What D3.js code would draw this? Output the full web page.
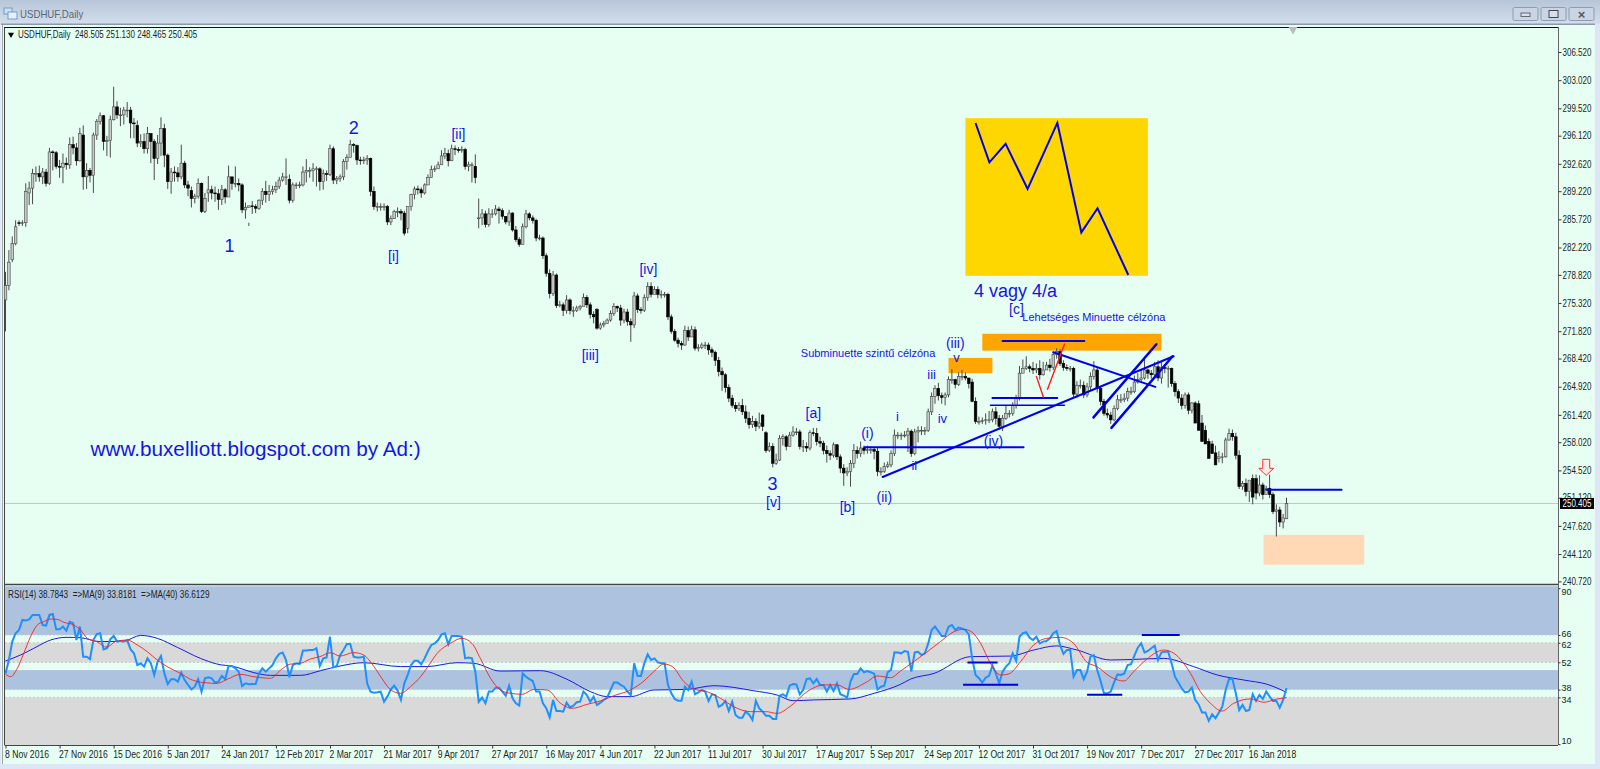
<!DOCTYPE html>
<html>
<head>
<meta charset="utf-8">
<title>USDHUF,Daily</title>
<script src="https://cdn.jsdelivr.net/npm/d3@7"></script>
<style>
  html, body { margin: 0; padding: 0; background: #dce6f4; overflow: hidden; }
  svg { display: block; }
  text { font-family: "Liberation Sans", Arial, sans-serif; }
  .small { font-family: "Liberation Sans", Arial, sans-serif; font-size: 10px; fill: #222; }
</style>
</head>
<body>
<svg width="1600" height="769"></svg>
<script>
const dateLabels = ['8 Nov 2016','27 Nov 2016','15 Dec 2016','5 Jan 2017','24 Jan 2017','12 Feb 2017','2 Mar 2017','21 Mar 2017','9 Apr 2017','27 Apr 2017','16 May 2017','4 Jun 2017','22 Jun 2017','11 Jul 2017','30 Jul 2017','17 Aug 2017','5 Sep 2017','24 Sep 2017','12 Oct 2017','31 Oct 2017','19 Nov 2017','7 Dec 2017','27 Dec 2017','16 Jan 2018'];
const dateTickBars = [0,16,32,48,64,80,96,112,128,144,160,176,192,208,224,240,256,272,288,304,320,336,352,368];
const priceTicks = [306.52,303.02,299.52,296.12,292.62,289.22,285.72,282.22,278.82,275.32,271.82,268.42,264.92,261.42,258.02,254.52,251.12,247.62,244.12,240.72];
const rsiTicks = [90,66,62,52,38,34,10];

const closes = [
277.5,280.4,282.7,284.8,285.2,285.3,289.2,289.6,291.4,291.4,
291.0,291.6,290.2,294.1,294.0,292.3,292.2,292.7,292.5,295.0,
294.6,293.0,296.4,291.0,291.8,291.2,296.2,297.9,298.6,295.4,
295.5,298.1,299.7,298.7,298.7,299.3,299.3,297.7,297.6,295.2,
295.4,294.5,296.4,295.4,293.3,295.2,297.0,293.7,290.4,291.6,
291.5,291.0,292.7,290.0,289.6,288.3,288.6,290.2,286.7,288.3,
289.4,289.0,288.9,288.2,289.4,288.5,291.0,290.2,290.2,290.0,
286.9,287.2,287.4,287.3,287.1,288.1,289.2,288.8,289.2,289.4,
289.8,290.6,291.0,291.0,288.1,290.0,290.0,290.0,291.6,291.8,
291.8,292.0,292.0,290.4,291.4,291.3,294.5,290.6,290.8,291.0,
292.9,293.4,295.0,294.9,293.1,293.0,293.1,293.3,289.2,287.3,
287.3,287.3,287.3,285.4,285.8,286.7,286.7,286.5,284.0,287.3,
288.8,289.5,289.4,289.0,290.0,290.9,291.9,292.0,292.5,293.6,
293.9,293.0,294.5,294.4,294.3,294.4,292.3,292.5,292.5,290.9,
285.9,286.4,285.1,286.4,286.4,287.0,286.8,286.1,285.4,286.5,
284.4,283.2,282.6,284.8,286.4,285.9,285.6,283.4,283.4,281.2,
279.0,276.5,278.8,275.0,275.1,274.4,275.7,274.4,274.4,274.7,
274.9,276.0,275.1,273.9,273.6,272.2,272.6,272.8,273.2,274.0,
274.9,274.7,273.2,274.2,273.0,272.6,276.2,274.5,274.4,276.0,
277.4,276.4,277.0,276.4,276.4,276.4,273.6,271.8,270.7,270.3,
270.1,271.9,271.1,272.0,269.7,269.8,270.1,270.1,269.5,269.2,
268.2,266.8,266.4,264.8,263.5,262.6,262.2,262.6,261.8,261.0,
260.2,260.6,260.0,260.4,260.0,257.0,257.5,255.4,255.8,258.5,
258.7,257.5,258.9,259.3,259.3,257.5,257.5,257.3,259.2,259.1,
258.1,257.9,257.0,256.6,256.4,257.7,256.2,254.8,254.2,254.4,
255.4,257.0,256.6,257.3,257.0,257.1,257.1,256.9,254.4,254.4,
255.0,255.2,256.6,258.9,258.9,258.9,258.9,259.4,256.6,259.3,
259.5,259.5,259.5,261.8,263.7,264.7,263.8,263.6,263.9,265.8,
265.8,265.2,266.2,266.2,266.0,265.3,263.1,260.6,260.6,260.7,
260.8,260.8,261.8,261.0,260.0,261.0,261.6,261.6,262.6,263.5,
266.6,267.2,267.4,267.2,267.0,267.2,266.4,267.0,267.6,267.3,
268.9,269.3,267.8,267.3,267.2,267.2,264.0,265.1,265.1,263.9,
264.9,266.2,267.0,264.7,263.1,261.6,261.4,260.8,262.2,263.3,
263.3,263.5,264.3,264.3,265.5,265.8,266.0,267.0,266.6,266.4,
267.4,266.0,267.3,267.2,267.2,265.3,264.3,263.5,262.6,263.9,
262.0,262.9,260.4,259.5,258.1,257.8,256.0,256.6,255.2,256.2,
256.2,258.3,259.1,258.7,256.4,252.5,252.9,251.9,253.3,251.2,
251.7,252.7,251.5,252.3,251.5,249.4,249.6,248.1,248.6,250.405];

const opens = [
275.7,277.5,280.7,282.7,285.3,285.2,285.3,289.0,289.6,291.3,
291.4,291.0,291.6,290.2,294.1,294.0,292.3,292.2,292.7,292.5,
295.0,294.6,293.0,296.2,291.0,291.8,291.2,296.2,297.9,298.6,
295.4,295.5,298.1,299.7,298.7,298.7,299.3,299.3,297.7,297.4,
295.2,295.4,294.5,296.4,295.4,293.3,295.2,297.0,293.7,290.4,
291.6,291.5,291.0,292.7,290.0,289.3,288.3,288.6,290.2,286.7,
289.0,289.4,289.0,288.9,288.2,289.4,288.5,291.0,290.2,290.2,
290.0,286.9,287.2,287.4,287.3,287.1,288.1,289.2,288.8,289.2,
289.4,289.8,290.6,291.0,290.7,288.1,290.0,290.0,290.0,291.6,
291.8,291.8,292.0,292.0,290.4,291.4,291.3,294.5,290.6,290.8,
291.0,292.9,293.4,295.0,294.9,293.1,293.0,293.1,293.3,289.2,
287.3,287.3,287.3,287.3,285.4,285.8,286.7,286.7,286.5,284.6,
287.3,288.8,289.5,289.4,289.0,290.0,290.9,291.9,292.0,292.5,
293.6,293.9,293.0,294.5,294.4,294.3,294.4,292.3,292.5,292.3,
285.8,285.9,286.4,285.1,286.4,286.4,287.0,286.8,286.1,285.4,
286.5,284.4,283.2,282.6,284.8,286.4,285.9,285.6,283.4,283.4,
281.2,279.0,276.5,278.8,275.0,275.1,274.4,275.7,274.4,274.4,
274.7,274.9,276.0,275.1,273.9,274.5,272.2,272.6,272.8,273.2,
274.0,274.9,274.7,273.2,274.2,273.0,272.6,276.2,274.5,274.4,
276.0,277.4,276.4,277.0,276.4,276.4,276.4,273.6,271.8,270.7,
270.3,270.1,271.9,271.1,272.0,269.7,269.8,270.1,270.1,269.5,
269.2,268.2,266.8,266.4,264.8,263.5,262.6,262.2,262.6,261.8,
261.0,260.2,260.6,260.0,261.4,259.2,257.0,257.5,255.4,255.8,
258.5,258.7,257.5,258.9,259.3,259.3,257.5,257.5,257.3,259.2,
259.1,258.1,257.9,257.0,256.6,256.4,257.7,256.2,254.8,254.2,
254.4,255.4,257.0,256.6,257.3,257.0,257.1,257.1,256.9,254.4,
254.4,255.0,255.2,256.6,258.9,258.9,258.9,258.9,259.4,256.6,
259.3,259.5,259.5,259.5,261.8,263.7,264.7,263.8,263.6,263.9,
265.8,265.8,265.2,266.2,266.2,266.0,265.5,263.1,260.6,260.6,
260.7,260.8,260.8,261.8,261.0,259.8,261.0,261.6,261.6,262.6,
263.5,266.6,267.2,267.4,267.2,267.0,267.2,266.4,267.0,267.6,
267.3,268.9,269.3,267.8,267.3,267.2,267.2,264.0,265.1,265.1,
263.9,264.9,266.2,267.0,264.7,263.1,261.6,261.4,260.8,262.2,
263.3,263.3,263.5,264.3,264.3,265.5,265.8,266.0,267.0,266.6,
266.4,267.4,266.0,267.3,267.2,267.2,265.3,264.3,263.5,262.6,
263.9,262.0,262.9,262.8,260.4,259.5,258.1,257.8,256.7,256.0,
256.2,256.2,258.3,259.1,258.7,256.4,252.5,252.9,251.9,253.5,
253.5,251.7,252.7,251.5,252.3,251.5,249.4,249.6,248.1,248.505];

const highs = [
279.2,281.9,283.6,285.6,285.6,285.6,290.2,290.4,292.0,292.3,
292.4,292.1,292.0,294.6,294.3,294.2,293.1,293.9,293.4,295.9,
296.0,295.2,297.1,297.4,292.7,292.1,296.5,298.2,299.0,298.7,
296.1,298.6,302.2,300.4,299.6,299.7,300.3,299.7,298.3,298.0,
296.3,296.4,297.2,296.4,295.7,296.2,298.4,297.6,293.9,292.1,
292.3,292.2,295.0,293.0,290.5,289.8,288.9,290.8,290.3,289.0,
291.1,289.9,289.8,289.5,290.0,289.6,292.4,291.0,292.3,290.8,
290.2,287.8,285.3,288.0,287.6,288.2,289.6,290.5,290.0,289.9,
290.4,291.0,291.5,293.3,291.3,290.3,290.3,290.4,292.3,293.2,
292.2,292.7,292.3,292.2,291.9,291.8,295.0,294.8,291.1,291.3,
293.2,293.8,295.6,295.2,295.0,293.5,293.5,293.7,293.4,289.8,
287.8,287.7,287.7,287.5,286.2,286.9,287.2,287.0,286.8,287.0,
288.9,289.8,289.9,289.7,290.2,291.3,292.4,292.4,292.9,294.3,
294.6,294.4,295.0,294.9,294.7,294.8,294.6,292.9,292.8,293.8,
288.3,287.0,286.8,287.1,287.0,287.5,287.3,287.1,285.9,286.9,
286.6,284.9,283.5,285.2,286.9,286.6,286.2,285.8,283.8,283.6,
281.5,279.5,279.3,279.0,275.6,275.4,276.3,275.9,274.9,275.0,
275.1,276.5,276.3,275.4,274.3,274.7,272.9,273.1,273.4,274.4,
275.3,275.0,275.1,274.6,274.6,273.4,276.7,276.5,274.8,276.4,
277.9,277.9,277.4,277.4,276.9,276.7,276.6,273.9,272.1,271.0,
270.6,272.5,272.4,272.5,272.4,270.2,270.4,270.5,270.4,269.8,
269.4,268.6,267.3,266.6,265.2,263.9,263.0,263.0,263.4,262.6,
261.8,261.3,261.0,261.7,261.5,259.4,258.0,257.9,256.6,258.9,
259.0,258.9,259.3,260.0,259.8,259.6,258.3,258.0,259.5,259.8,
259.8,258.7,258.2,257.6,257.0,258.0,257.8,256.5,255.3,254.9,
255.8,257.8,257.5,258.1,257.6,257.6,257.5,257.3,257.3,254.9,
255.5,255.6,257.0,259.6,259.3,259.2,259.4,259.8,259.6,259.7,
260.0,260.0,259.9,262.2,264.2,265.1,265.4,264.2,264.2,266.2,
267.1,265.9,266.7,267.0,266.7,265.8,265.9,263.6,261.2,261.1,
261.6,261.9,262.2,262.4,261.4,261.4,262.6,262.0,263.0,263.9,
267.5,268.3,268.7,267.7,268.0,267.8,268.2,268.0,268.0,268.4,
269.3,269.7,269.6,268.2,267.7,267.5,267.4,265.6,265.8,265.6,
265.4,266.7,268.1,267.3,264.9,263.4,262.2,261.8,262.6,263.9,
264.0,264.1,264.8,264.9,266.3,266.6,267.0,268.4,267.2,267.0,
268.0,268.2,268.0,267.7,267.5,267.3,265.6,264.6,264.0,264.2,
264.2,263.0,263.1,263.2,261.4,260.1,258.5,258.2,257.6,256.9,
256.7,258.6,259.7,259.6,259.2,257.0,253.2,253.5,252.7,254.0,
254.0,253.9,253.0,252.6,254.0,251.8,250.3,250.0,249.1,251.13];

const lows = [
271.8,276.9,280.4,282.5,284.9,284.9,284.8,287.5,287.6,290.4,
290.4,290.1,289.8,290.0,291.8,292.0,290.9,290.2,291.9,292.0,
293.8,292.4,292.9,289.4,289.5,290.3,289.0,295.6,297.5,294.3,
293.6,293.4,298.0,298.2,297.3,297.5,298.4,295.8,295.8,294.7,
294.7,293.9,293.9,292.7,290.6,292.6,293.6,292.2,289.5,288.9,
290.4,290.4,290.7,289.6,288.6,287.2,287.7,288.3,286.5,286.5,
287.9,288.2,287.9,286.9,287.5,287.7,288.9,289.4,289.7,289.2,
286.5,285.8,284.9,286.4,286.5,286.9,287.5,287.8,288.0,288.8,
289.0,289.5,290.4,290.0,287.7,287.8,289.5,289.6,289.8,290.3,
290.9,290.4,289.8,289.3,289.4,290.5,291.1,290.1,290.1,290.4,
290.6,291.9,293.5,294.0,292.5,292.5,292.6,292.5,288.6,286.9,
286.7,286.8,286.8,285.0,285.0,285.8,286.0,285.6,283.7,284.0,
286.8,288.2,288.8,288.4,288.8,290.0,290.9,291.6,292.2,292.5,
293.2,292.3,293.0,293.7,294.0,294.0,291.9,291.7,290.3,290.2,
284.6,285.0,284.7,284.8,285.9,286.2,285.2,285.7,285.1,284.9,
284.2,282.9,282.3,282.8,284.6,285.6,285.2,283.0,283.1,280.8,
278.6,275.9,276.2,274.7,274.8,273.7,274.0,273.9,273.6,274.2,
274.4,275.4,274.7,273.4,272.8,272.0,272.0,272.3,272.8,273.0,
273.7,274.2,272.5,272.8,272.5,270.5,272.2,274.1,274.0,274.2,
275.6,276.0,276.5,275.9,275.9,276.0,273.2,271.5,270.5,269.8,
269.5,270.0,270.6,271.2,269.4,269.3,269.6,269.6,268.9,268.6,
267.5,266.2,264.4,264.2,263.0,262.3,261.8,261.9,261.4,260.4,
259.7,259.8,259.4,259.7,259.4,256.7,256.8,254.9,255.2,255.7,
257.6,257.0,257.5,258.7,258.9,257.1,256.8,256.8,257.0,258.8,
257.6,257.4,256.5,255.5,255.8,256.1,255.8,254.2,252.6,253.8,
252.5,254.8,256.0,256.2,256.5,256.6,256.6,255.9,253.8,253.9,
254.2,254.8,254.9,256.3,258.4,258.3,258.6,256.8,256.2,256.4,
258.0,258.9,258.9,259.3,261.4,262.8,263.2,262.8,262.6,263.6,
265.3,264.7,265.0,265.7,265.7,264.7,263.0,260.3,260.2,260.3,
260.2,260.4,260.5,260.2,259.6,259.4,260.8,261.1,261.3,262.2,
263.2,266.8,267.0,266.7,266.5,266.6,265.8,266.3,267.0,266.8,
267.0,268.4,267.5,266.9,266.9,266.8,263.5,263.5,264.7,263.5,
263.6,264.5,265.8,264.2,262.6,261.3,261.0,260.3,260.6,262.0,
262.9,263.0,263.1,263.9,264.1,265.3,265.5,265.8,265.9,265.9,
266.0,265.6,265.3,266.6,264.8,264.9,263.7,262.9,262.1,262.2,
261.5,261.6,260.5,260.0,259.1,258.0,257.6,257.1,255.6,255.5,
255.4,256.1,258.2,258.2,255.9,252.2,252.1,251.3,250.6,250.3,
250.9,251.3,250.9,251.5,251.1,249.1,246.3,247.5,247.3,248.465];

const rsiValues = [
46.3,53.2,62.6,66.9,68.6,73.7,73.4,74,76.3,76.3,
76.3,71.1,70.8,76.3,76.8,68.9,68.9,70.3,68.2,72.8,
72,63.4,70.3,54.9,54.9,53.7,63.4,66.5,66.9,58.6,
59.2,63.8,65.5,62.6,62.9,62.6,63.4,58.6,56.6,50.6,
51.5,49.8,54,51.5,45.5,52.3,55.2,46.3,40.9,43.3,
43.3,42.1,46.7,42.9,40.4,38.1,39.5,43.3,36.9,43.8,
44.3,43.8,41.6,42.1,45,43.3,50.1,50.1,48.9,47.2,
39.8,41.2,40.7,40.9,40.9,46.3,48.9,47.2,48.9,50.6,
54,56.3,57,53.2,44.3,50.6,51.5,51.1,58,58,
58.3,58.3,59.2,50.1,54,54.5,65.1,49.4,50.1,55.7,
58.3,61.4,61.4,54.9,54.5,54.5,54.9,41.2,36.9,36.4,
36.6,36.9,31.8,34.4,38.1,40,37.5,32.7,41.2,45.5,
50.6,52.8,52.8,51,54,57.8,60.9,61.7,63.4,66.3,
66.9,61.2,65.5,65.5,65.5,65.2,54,54.4,54,47.2,
31.8,33.9,31,37,37,39,39,37,34.9,40,
33.5,31,29.8,46.3,44.6,43.4,42.4,37,37,31,
28.4,23.8,32.7,27,27,26.7,31.3,28.9,29.8,31.5,
31.8,37,35.2,31.8,34.4,30.1,31.3,32.7,33.9,37.8,
41.7,41.7,40.4,39.5,37,35.2,51.5,45,45,51.5,
56.1,53.2,54,52,51.5,51.5,40.4,36.1,33.2,32.3,
32.3,39.5,37.8,42.1,35.6,36.6,37.8,37,32.2,35.6,
35.2,29.2,30.1,32.2,27,31.8,25,23.6,23.6,26.7,
25.3,22.4,32.2,28.4,26.7,24.6,24.6,22.9,22.9,34.9,
35.6,34.4,40,40.9,40.7,35.6,37.8,43.4,43.8,41.2,
43.4,40.4,40.4,37,40.4,37.3,41.2,35.6,34.9,33.9,
42.1,46,46,48.9,46.9,47.5,46.9,46.2,38.1,39.5,
40,46.9,48.1,57.1,57,56.6,57.8,57.4,47.2,57.1,
57.4,55.7,56.6,61.7,68.6,70.3,68,65.5,65.5,70.3,
71.1,68.6,69.8,69.4,68.6,66.3,54,45.5,43.8,41.6,
44.1,45.1,50.3,46.3,41.2,47.2,49.8,51.5,56.6,52.7,
65.1,66.9,67.4,64.6,63.4,65.1,61.7,62.6,62.9,64.3,
66.9,68,60.9,56.3,58.3,58.3,44.6,48,48,43.4,
47.2,54.9,55.7,48,42.4,36.1,36.1,37,41.7,45.8,
45.5,46.3,50.6,51,55.4,59.5,61.7,57.1,57.8,59.2,
60.5,53.2,57.1,57.4,57.4,51.5,44.6,41.7,38.6,36.6,
37,39,32.7,30.4,26.3,26.3,22,25.3,23.3,26.3,
29.2,37.8,43.4,43.4,36.1,27.5,30.1,27,27.5,35.6,
32.2,35.2,33.2,37,34.4,32.2,32.2,28.7,32.7,38.78];

const ma9Bars = [0,1.5,3.5,5.4,7.4,9.4,11.3,13.3,15.3,17.3,20.2,22.2,24.2,27,30,32.5,36,39,41.9,44.9,47.8,51.8,54.7,58.7,62.6,65.6,69.5,73.5,78.4,81.4,84.3,87.3,90.2,93,96.2,99,103,106,109,112,114,116.9,119.8,122.8,125.3,127.7,131.6,135,138,140.5,143.5,146.4,149.4,152.9,156.3,160.3,164.2,167.6,172,176,180,184.9,188.9,191.8,194.8,197.3,200.7,203.7,207.6,211.6,215.5,220.4,224.9,228.3,232.3,237.2,242.2,246.1,249.5,255,257.9,261.9,264.8,268.7,272.7,276.6,280.6,283.5,286,288.5,291.4,294.4,296.8,300.3,304.2,308.1,312.1,316,320,322.9,326.9,330.9,333.8,336.8,342.7,345.7,350.6,353.5,356.5,359.9,363.4,368.2,372.3,376.2,379];
const ma9Values = [46,44.6,48.9,56.6,65.1,71.1,72.8,74.2,74,72.5,71.1,68.6,64.3,62.6,59.7,62.6,63.4,60.9,57.5,53.2,49.8,46.3,43.3,41.6,41.2,43.3,45.8,44.6,43.8,48,51.1,51.5,53.7,54.9,56.9,55.2,57,55.7,49.8,42.1,37.8,36.1,39.5,44.6,50.6,56.6,61.7,64.3,61.7,54,43.8,37.8,36.1,35.6,38.1,37.8,31,28.4,30.4,32.2,34.9,37.8,42.4,47.2,51.1,49.8,42.1,38.3,36.9,33.5,29.2,26.7,26.7,25.8,29.6,37,40.4,40.4,38.1,42.1,45,44.1,47.5,52.3,57.4,62.6,67.7,68.9,67.4,61.7,51.5,45.5,46,52.3,60.9,64.3,64.8,61.7,52,49.8,44.6,42.4,47.2,52.3,58.3,56.6,46.3,37,31,27,31,33.2,31.5,33.2,33.82];
const ma40Bars = [0,4.4,8.4,13.3,18.2,22.2,28,35,40,44.9,50.8,57.7,62.6,67.6,73.5,78.4,87.3,93.2,99,106,116.9,124.7,133.6,138.5,146.4,158.3,166,173,178,185,191.8,201.6,209.6,221.4,228.3,233,239,249.9,257,264.8,267.8,274.7,285.5,297.3,304.2,311,317,326.9,333.8,342.7,351.5,358.5,366.4,373.3,379];
const ma40Values = [52.7,55.7,59.2,63.4,64.8,64.6,62.6,62.9,65.8,64.3,59.7,54,51.1,49.8,46.7,45.3,45.3,47.7,50.1,51.8,49.8,49.8,51.8,51.5,47.5,47.7,43.4,37,34.4,34.4,37.8,38.1,40,37.4,35.2,32.3,32.7,33.2,36.1,40.7,43.4,46.3,54.9,55.2,58.3,60.4,58.3,53.2,53.5,54,49.8,45.5,42.9,40.7,36.61];

// wave counts and notes: [text, bar, price, font size]
const waveLabels = [
  ['1',66.3,282.5,18],['2',103,297.1,18],['3',226.9,252.9,18],
  ['[i]',114.8,281.2,14],['[ii]',134,296.3,14],['[iii]',173,268.9,14],['[iv]',190.2,279.5,14],['[v]',227.2,250.6,14],
  ['[a]',239,261.6,14],['[b]',249.1,250,14],['[c]',299.1,274.6,14],
  ['(i)',255,259.2,14],['(ii)',260,251.2,14],['(iii)',281,270.3,14],['(iv)',292.3,258.2,14],
  ['i',263.9,261.2,13],['ii',268.9,255.1,13],['iii',274,266.4,13],['iv',277.2,261,13],['v',281.4,268.5,13],
  ['4 vagy 4/a',298.8,276.9,18],
  ['Lehetséges Minuette célzóna',322,273.6,11],['Subminuette szintű célzóna',255.2,269.1,11],
  ['www.buxelliott.blogspot.com by Ad:)',74,257.2,20.7]
];

// [bar1, price1, bar2, price2, width]
const blueLines = [
  [254.1,257.4,301.2,257.4,2],[259.5,253.7,345.6,268.7,2],
  [292,263.5,311.2,263.5,2],[291.4,262.6,313.3,262.6,1.5],[295,270.6,319.2,270.6,2],
  [310,269.2,340.2,264.9,2],[321.9,261.1,340.5,270.2,2.5],[327.2,259.8,345.3,268.7,2.5],
  [373,252.1,395.3,252.1,2]
];
const redLines = [[305,266.2,307.1,263.6],[308.3,264.6,313.3,270.2]];

// [bar1, bar2, price1, price2, colour]
const zones = [
  [284,338,298.3,278.7,'#ffd700'],[279,292,268.5,266.6,'#ffa500'],
  [289,342,271.5,269.4,'#ffa500'],[372.2,402,246.5,242.8,'#ffd8b5']
];
const insetBars = [287,291.1,295.9,302.4,311.2,318.3,323.1,332.2];
const insetPrices = [297.7,292.8,295.1,289.5,297.7,284.1,287.1,278.8];
// [bar1, bar2, rsi]
const rsiLevels = [[284.6,293.5,51.9],[283.3,299.6,40.5],[320,330.4,35.3],[336.2,347.4,66]];

// rsi bands: [from, to, colour]
const rsiBands = [[91,66,'#adc2de'],[62,52,'#d9d9d9'],[48,38,'#adc2de'],[34,9.6,'#d9d9d9']];

const lastPrice = 250.405;
const x = d3.scaleLinear().domain([0, 379]).range([5.5, 1286.5]);
const y = d3.scaleLinear().domain([240.72, 306.52]).range([581.4, 52]);
const yRsi = d3.scaleLinear().domain([10, 90]).range([744.2, 588.2]);
const bodyWidth = 2.6;

const svg = d3.select('svg');

// the terminal's small font is narrower than anything installed
const squeeze = (sel, ratio) => sel.attr('lengthAdjust', 'spacingAndGlyphs')
  .attr('textLength', function () { return this.getComputedTextLength() * ratio; });

// window frame
const defs = svg.append('defs');
const grad = defs.append('linearGradient').attr('id', 'titlebar').attr('x1', 0).attr('x2', 0).attr('y1', 0).attr('y2', 1);
grad.append('stop').attr('offset', 0).attr('stop-color', '#b7c6d8');
grad.append('stop').attr('offset', 1).attr('stop-color', '#d2deec');
svg.append('rect').attr('width', 1600).attr('height', 24).attr('fill', 'url(#titlebar)');
svg.append('rect').attr('x', 1).attr('y', 24).attr('width', 1594).attr('height', 740).attr('fill', '#e6fff2');
svg.append('rect').attr('x', 1).attr('y', 23.5).attr('width', 1594).attr('height', 1.5).attr('fill', '#8d99a8');
svg.append('text').attr('x', 20).attr('y', 18).attr('font-size', 11.5).attr('fill', '#5a6878').text('USDHUF,Daily').call(squeeze, 0.84);

// window icon
const icon = svg.append('g').attr('transform', 'translate(4,8)');
icon.append('rect').attr('width', 8).attr('height', 6).attr('fill', '#cfe0f4').attr('stroke', '#6f9bd0').attr('stroke-width', 1);
icon.append('rect').attr('x', 4).attr('y', 4).attr('width', 9).attr('height', 7).attr('fill', '#e8f1fb').attr('stroke', '#6f9bd0').attr('stroke-width', 1);

// window buttons
[1513, 1541, 1569].forEach((bx, n) => {
  svg.append('rect').attr('x', bx).attr('y', 7.5).attr('width', 25).attr('height', 13).attr('rx', 1.5)
    .attr('fill', '#c9d5e4').attr('stroke', '#8e9cb0');
  if (n === 0) svg.append('rect').attr('x', bx + 8).attr('y', 13).attr('width', 9).attr('height', 3.5).attr('fill', '#d8dfe8').attr('stroke', '#667');
  if (n === 1) svg.append('rect').attr('x', bx + 8).attr('y', 10.5).attr('width', 9).attr('height', 7).attr('fill', '#d8dfe8').attr('stroke', '#445');
  if (n === 2) svg.append('text').attr('x', bx + 12.5).attr('y', 18.5).attr('text-anchor', 'middle').attr('font-size', 13).attr('font-weight', 'bold').attr('fill', '#556').text('×');
});

// price panel frame
svg.append('line').attr('x1', 2.5).attr('x2', 2.5).attr('y1', 25).attr('y2', 764).attr('stroke', '#9aa59f');
svg.append('line').attr('x1', 4.5).attr('x2', 4.5).attr('y1', 27).attr('y2', 745).attr('stroke', '#444');
svg.append('line').attr('x1', 4.5).attr('x2', 1558).attr('y1', 27.5).attr('y2', 27.5).attr('stroke', '#111');
svg.append('line').attr('x1', 1558.5).attr('x2', 1558.5).attr('y1', 27).attr('y2', 745).attr('stroke', '#666');
svg.append('path').attr('d', d3.symbol(d3.symbolTriangle, 34)).attr('transform', 'translate(1293,29.5) rotate(180)').attr('fill', '#bbb');

// zones
svg.append('g').selectAll('rect').data(zones).join('rect')
  .attr('x', d => x(d[0])).attr('width', d => x(d[1]) - x(d[0]))
  .attr('y', d => y(d[2])).attr('height', d => y(d[3]) - y(d[2]))
  .attr('fill', d => d[4]);

// last price line
svg.append('line').attr('x1', 5).attr('x2', 1558).attr('y1', y(lastPrice)).attr('y2', y(lastPrice)).attr('stroke', '#c0c8c2');

// candles
const bars = d3.range(closes.length);
const candles = svg.append('g');
candles.selectAll('.wick').data(bars).join('line').attr('class', 'wick')
  .attr('x1', i => x(i)).attr('x2', i => x(i))
  .attr('y1', i => y(highs[i])).attr('y2', i => y(lows[i]))
  .attr('stroke', '#4a4a4a').attr('stroke-width', 1);
candles.selectAll('.body').data(bars).join('rect').attr('class', 'body')
  .attr('x', i => x(i) - bodyWidth / 2).attr('width', bodyWidth)
  .attr('y', i => y(Math.max(opens[i], closes[i])))
  .attr('height', i => Math.max(0.8, Math.abs(y(opens[i]) - y(closes[i]))))
  .attr('fill', i => closes[i] < opens[i] ? '#000' : '#c4cbc6')
  .attr('stroke', i => closes[i] < opens[i] ? '#000' : '#444')
  .attr('stroke-width', 0.6);

// drawn trend lines
const drawn = svg.append('g').attr('stroke-linecap', 'round');
drawn.selectAll('.blue').data(blueLines).join('line').attr('class', 'blue')
  .attr('x1', d => x(d[0])).attr('y1', d => y(d[1])).attr('x2', d => x(d[2])).attr('y2', d => y(d[3]))
  .attr('stroke', '#0000ee').attr('stroke-width', d => d[4]);
drawn.selectAll('.red').data(redLines).join('line').attr('class', 'red')
  .attr('x1', d => x(d[0])).attr('y1', d => y(d[1])).attr('x2', d => x(d[2])).attr('y2', d => y(d[3]))
  .attr('stroke', '#ff1a1a').attr('stroke-width', 1.4);

// inset sketch on the yellow box
svg.append('path')
  .attr('d', d3.line().x(i => x(insetBars[i])).y(i => y(insetPrices[i]))(d3.range(insetBars.length)))
  .attr('fill', 'none').attr('stroke', '#0000ee').attr('stroke-width', 2);

// red down arrow above the last swing
svg.append('path')
  .attr('d', 'M-3.5,-8 L3.5,-8 L3.5,1 L7.5,1 L0,8 L-7.5,1 L-3.5,1 Z')
  .attr('transform', `translate(${x(373)},${y(254.9)})`)
  .attr('fill', '#ffe9e4').attr('stroke', '#ff3030').attr('stroke-width', 1);

// labels
svg.append('g').selectAll('text').data(waveLabels).join('text')
  .attr('x', d => x(d[1])).attr('y', d => y(d[2]))
  .attr('dy', '0.35em').attr('text-anchor', 'middle')
  .attr('font-size', d => d[3]).attr('fill', '#1414e6')
  .text(d => d[0]);

// price axis
const priceAxis = svg.append('g').attr('transform', 'translate(1558.5,0)')
  .call(d3.axisRight(y).tickValues(priceTicks).tickFormat(d3.format('.3f')).tickSize(3).tickPadding(1));
priceAxis.select('.domain').remove();
priceAxis.selectAll('text').attr('class', 'small').call(squeeze, 0.8);
priceAxis.selectAll('line').attr('stroke', '#333');

// last price tag
svg.append('rect').attr('x', 1560).attr('y', y(lastPrice) - 5.5).attr('width', 34).attr('height', 11).attr('fill', '#000');
svg.append('text').attr('class', 'small').attr('x', 1562.5).attr('y', y(lastPrice)).attr('dy', '0.35em').style('fill', '#fff').text(d3.format('.3f')(lastPrice)).call(squeeze, 0.8);

// header text
svg.append('path').attr('d', d3.symbol(d3.symbolTriangle, 16)).attr('transform', 'translate(11,34.5) rotate(180)').attr('fill', '#000');
svg.append('text').attr('class', 'small').attr('x', 18).attr('y', 38).attr('xml:space', 'preserve')
  .text('USDHUF,Daily  248.505 251.130 248.465 250.405').call(squeeze, 0.8);

// rsi panel
svg.append('line').attr('x1', 4.5).attr('x2', 1558).attr('y1', 584.5).attr('y2', 584.5).attr('stroke', '#444').attr('stroke-width', 1.5);
svg.append('g').selectAll('rect').data(rsiBands).join('rect')
  .attr('x', 5).attr('width', 1553)
  .attr('y', d => yRsi(d[0])).attr('height', d => yRsi(d[1]) - yRsi(d[0]))
  .attr('fill', d => d[2]);
svg.append('g').selectAll('line').data([66, 62, 52, 38, 34]).join('line')
  .attr('x1', 5).attr('x2', 1558).attr('y1', d => yRsi(d)).attr('y2', d => yRsi(d))
  .attr('stroke', '#c9c9c9').attr('stroke-dasharray', '2,2');

const rsiLine = (xs, vs) => d3.line().x(i => x(xs[i])).y(i => yRsi(vs[i]))(d3.range(xs.length));
const smoothLine = (xs, vs) => d3.line().curve(d3.curveMonotoneX).x(i => x(xs[i])).y(i => yRsi(vs[i]))(d3.range(xs.length));
svg.append('path').attr('d', smoothLine(ma40Bars, ma40Values)).attr('fill', 'none').attr('stroke', '#1a1ae6').attr('stroke-width', 1);
svg.append('path').attr('d', rsiLine(bars, rsiValues)).attr('fill', 'none').attr('stroke', '#1e90ff').attr('stroke-width', 2);
svg.append('path').attr('d', smoothLine(ma9Bars, ma9Values)).attr('fill', 'none').attr('stroke', '#f52020').attr('stroke-width', 0.9);

svg.append('g').selectAll('line').data(rsiLevels).join('line')
  .attr('x1', d => x(d[0])).attr('x2', d => x(d[1])).attr('y1', d => yRsi(d[2])).attr('y2', d => yRsi(d[2]))
  .attr('stroke', '#0000dd').attr('stroke-width', 2);

svg.append('text').attr('class', 'small').attr('x', 8).attr('y', 598).attr('xml:space', 'preserve')
  .text('RSI(14) 38.7843  =>MA(9) 33.8181  =>MA(40) 36.6129').call(squeeze, 0.82);

const rsiAxis = svg.append('g').attr('transform', 'translate(1558.5,0)')
  .call(d3.axisRight(yRsi).tickValues(rsiTicks).tickSize(2).tickPadding(1));
rsiAxis.select('.domain').remove();
rsiAxis.selectAll('text').attr('class', 'small').style('font-size', '9px');
rsiAxis.selectAll('line').attr('stroke', '#333');
rsiAxis.selectAll('.tick').filter(d => d === 90).select('text').attr('dy', '0.7em');
rsiAxis.selectAll('.tick').filter(d => d === 10).select('text').attr('dy', '-0.1em');
rsiAxis.selectAll('.tick').filter(d => d === 66 || d === 38).select('text').attr('dy', '0.15em');
rsiAxis.selectAll('.tick').filter(d => d === 62 || d === 34).select('text').attr('dy', '0.55em');

// date axis
svg.append('line').attr('x1', 4.5).attr('x2', 1558).attr('y1', 745.5).attr('y2', 745.5).attr('stroke', '#444');
const dateAxis = svg.append('g').attr('transform', 'translate(0,745.5)')
  .call(d3.axisBottom(x).tickValues(dateTickBars).tickFormat((d, n) => dateLabels[n]).tickSize(3).tickPadding(1));
dateAxis.select('.domain').remove();
dateAxis.selectAll('text').attr('class', 'small').attr('text-anchor', 'start').attr('dx', -1).attr('y', 5).call(squeeze, 0.86);
dateAxis.selectAll('line').attr('stroke', '#333');
</script>
</body>
</html>
